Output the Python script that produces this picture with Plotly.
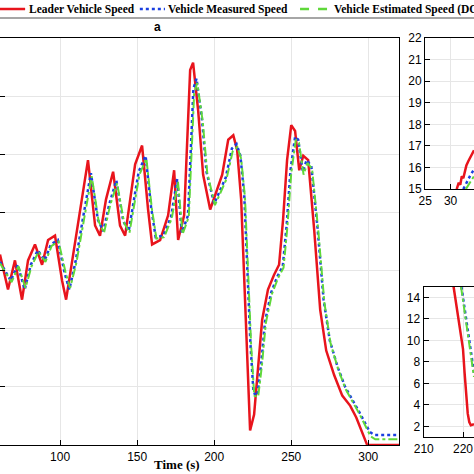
import plotly.graph_objects as go

# Main plot data (time s, speed m/s)
lead_t = [61, 66.2, 70.7, 75.3, 79.2, 83.7, 88.3, 92.2, 96.7, 101.3, 103.9, 107.8, 113, 118.1, 122.7, 125.9, 129.8, 134.4, 138.9, 142.2, 148.7, 153.2, 157.1, 159.7, 164.9, 170.1, 174, 176.6, 180.5, 184.4, 186.3, 189.6, 192.8, 197.4, 205.2, 209.1, 212.4, 214.9, 217.5, 219.5, 221.4, 223.3, 225.9, 228.5, 231.1, 234.9, 238.8, 242.1, 244.7, 247.3, 250.0, 252.5, 255.2, 257.8, 261.0, 264.9, 268.8, 272.7, 277.9, 283.1, 288.3, 292.2, 299.3, 320]
lead_v = [13.1, 10.7, 12.7, 10.0, 12.7, 13.8, 12.4, 14.1, 14.4, 11.3, 10.0, 12.7, 16.2, 19.6, 15.1, 14.4, 16.9, 18.8, 15.1, 14.4, 19.3, 20.6, 16.2, 13.8, 14.1, 15.8, 18.9, 14.1, 15.8, 25.8, 26.3, 23.0, 18.6, 16.2, 18.6, 21.0, 21.3, 20.3, 16.9, 11.3, 5.1, 1.0, 2.1, 5.2, 8.6, 10.7, 11.7, 12.4, 15.5, 19.6, 22.0, 21.6, 18.9, 19.9, 19.6, 14.8, 9.3, 6.5, 4.8, 3.4, 2.7, 1.9, 0.0, 0.0]

meas_t = [61, 68, 72.5, 77, 81, 85.5, 90, 94, 98.5, 103, 106, 110, 115, 120, 124.5, 128, 132, 136.5, 141, 144.5, 151, 155.5, 159, 162, 167, 172, 176, 179, 183, 186.5, 188.5, 192, 195, 200, 207.5, 211.5, 214.5, 217, 219.5, 221.5, 223.5, 225.5, 228, 230.5, 233, 237, 241, 244.5, 247, 249.5, 252.5, 254.5, 257.5, 260, 263, 267, 271, 275, 280, 285, 290, 294, 301, 304, 320]
meas_v = [12.6, 11.3, 12.4, 10.7, 12.4, 13.4, 12.7, 13.8, 14.1, 11.8, 10.7, 12.6, 15.7, 18.7, 15.5, 14.7, 16.6, 18.2, 15.4, 14.7, 18.8, 19.9, 16.4, 14.3, 14.4, 15.7, 18.3, 14.6, 15.8, 24.5, 25.2, 22.5, 18.8, 16.6, 18.4, 20.4, 20.7, 19.9, 17.2, 12.5, 7.0, 3.6, 3.4, 5.6, 8.5, 10.5, 11.6, 12.3, 15.1, 18.9, 21.2, 21.0, 18.8, 19.6, 19.2, 15.0, 10.0, 7.2, 5.4, 4.0, 3.1, 2.3, 0.9, 0.7, 0.7]

est_t = [61, 68.5, 73, 77.5, 81.5, 86, 90.5, 94.5, 99, 103.5, 106.5, 110.5, 115.5, 120.5, 125, 128.5, 132.5, 137, 141.5, 145, 151.5, 156, 159.5, 162.5, 167.5, 172.5, 176.5, 179.5, 183.5, 187, 189, 192.5, 195.5, 200.5, 208, 212, 215, 217.5, 220, 222, 224, 226, 228.5, 231, 233.5, 237.5, 241.5, 245, 247.5, 250, 253, 255, 258, 260.5, 263.5, 267.5, 271.5, 275.5, 280.5, 285.5, 290.5, 294.5, 301.5, 304.5, 320]
est_v = [12.5, 11.2, 12.3, 10.8, 12.3, 13.3, 12.6, 13.7, 14.0, 11.9, 10.8, 12.5, 15.5, 18.5, 15.4, 14.6, 16.5, 18.0, 15.3, 14.6, 18.6, 19.7, 16.3, 14.2, 14.3, 15.6, 18.1, 14.5, 15.7, 24.2, 24.9, 22.3, 18.7, 16.5, 18.3, 20.2, 20.5, 19.7, 17.0, 12.3, 6.8, 3.4, 3.3, 5.5, 8.4, 10.4, 11.5, 12.2, 15.0, 18.7, 21.0, 20.8, 18.6, 19.4, 19.0, 14.8, 9.8, 7.0, 5.2, 3.8, 2.9, 2.1, 0.6, 0.4, 0.4]

# Inset 1 (zoom 25-35 s)
in1_lead_t = [31.2, 31.6, 31.9, 32.2, 32.5, 32.8, 33.1, 33.5, 34, 34.6]
in1_lead_v = [15.0, 15.3, 15.2, 15.6, 15.5, 15.9, 16.1, 16.3, 16.5, 16.8]
in1_meas_t = [32.5, 32.9, 33.3, 33.8, 34.3, 34.6]
in1_meas_v = [15.0, 15.2, 15.4, 15.6, 15.8, 15.9]
in1_est_t = [33.0, 33.5, 34.0, 34.6]
in1_est_v = [15.0, 15.2, 15.4, 15.6]

# Inset 2 (zoom 210-223 s)
in2_lead_t = [217.6, 218.4, 219.2, 219.7, 220.0, 220.4, 220.8, 221.2, 221.6, 222.0, 222.8]
in2_lead_v = [15.0, 13.0, 11.0, 10.2, 9.2, 7.0, 5.0, 3.2, 2.4, 2.1, 2.2]
in2_meas_t = [219.6, 220.4, 221.2, 222.0, 222.8]
in2_meas_v = [15.0, 13.0, 11.0, 9.0, 7.0]
in2_est_t = [219.5, 220.3, 221.1, 221.9, 222.8]
in2_est_v = [15.0, 13.0, 11.0, 8.8, 6.6]

RED, BLUE, GREEN = "#e8141c", "#1a3fe0", "#5fd83a"

fig = go.Figure()
def add(t, v, color, dash, w, xa, ya):
    fig.add_trace(go.Scatter(x=t, y=v, mode="lines", line=dict(color=color, width=w, dash=dash),
                             xaxis=xa, yaxis=ya, showlegend=False))

for xa, ya, data in [("x", "y", (lead_t, lead_v, meas_t, meas_v, est_t, est_v)),
                     ("x2", "y2", (in1_lead_t, in1_lead_v, in1_meas_t, in1_meas_v, in1_est_t, in1_est_v)),
                     ("x3", "y3", (in2_lead_t, in2_lead_v, in2_meas_t, in2_meas_v, in2_est_t, in2_est_v))]:
    add(data[0], data[1], RED, "solid", 2.5, xa, ya)
    add(data[2], data[3], BLUE, "dot", 2.5, xa, ya)
    add(data[4], data[5], GREEN, "dashdot", 2, xa, ya)

ax = dict(showline=True, linecolor="black", linewidth=1.3, mirror=True, ticks="inside", ticklen=5,
          tickcolor="black", showgrid=True, gridcolor="#e6e6e6", zeroline=False, automargin=False,
          tickfont=dict(family="Liberation Sans", size=12, color="black"))
fig.update_layout(
    width=474, height=474, margin=dict(l=0, r=0, t=0, b=0), plot_bgcolor="white", paper_bgcolor="white",
    xaxis=dict(ax, domain=[0, 0.842], range=[61, 320], tickvals=[100, 150, 200, 250, 300]),
    yaxis=dict(ax, domain=[0.061, 0.92], range=[0, 28], dtick=4, showticklabels=False),
    xaxis2=dict(ax, anchor="y2", domain=[0.897, 1.0], range=[25, 34.6], dtick=5),
    yaxis2=dict(ax, anchor="x2", domain=[0.601, 0.92], range=[15, 22], dtick=1),
    xaxis3=dict(ax, anchor="y3", domain=[0.894, 1.0], range=[210, 222.8], dtick=10),
    yaxis3=dict(ax, anchor="x3", domain=[0.078, 0.395], range=[1, 15], dtick=2),
)
fig.add_annotation(text="<b>Time (s)</b>", x=0.321, y=0.0, xref="paper", yref="paper", showarrow=False,
                   yanchor="bottom", font=dict(family="Liberation Serif", size=13, color="black"))
fig.add_annotation(text="<b>a</b>", x=0.321, y=0.925, xref="paper", yref="paper", showarrow=False,
                   yanchor="bottom", font=dict(family="Liberation Sans", size=12, color="black"))
# legend
fig.add_shape(type="line", xref="paper", yref="paper", x0=0, x1=1, y0=0.962, y1=0.962, line=dict(color="#888", width=1.5))
items = [(0.0, 0.053, RED, "solid", "Leader Vehicle Speed"), (0.295, 0.348, BLUE, "dot", "Vehicle Measured Speed"),
         (0.633, 0.697, GREEN, "dash", "Vehicle Estimated Speed (DO)")]
for x0, x1, c, d, txt in items:
    fig.add_shape(type="line", xref="paper", yref="paper", x0=x0, x1=x1, y0=0.981, y1=0.981, line=dict(color=c, width=2.5, dash=d))
    fig.add_annotation(text="<b>" + txt + "</b>", x=x1 + 0.003, y=0.981, xref="paper", yref="paper", showarrow=False,
                       xanchor="left", yanchor="middle", font=dict(family="Liberation Serif", size=11.5, color="black"))
fig.write_html("out.html", config={"displayModeBar": False}, post_script="document.body.style.margin='0px';")
